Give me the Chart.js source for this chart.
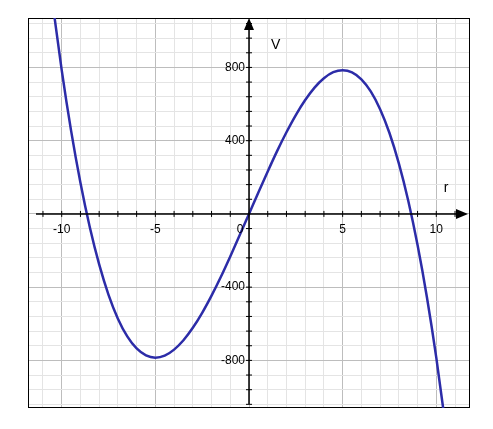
<!DOCTYPE html>
<html><head><script src="https://cdn.jsdelivr.net/npm/chart.js@4"></script>
<style>body{margin:0;background:#fff}#w{position:relative;width:493px;height:429px}</style></head>
<body><div id="w"><canvas id="c" width="493" height="429"></canvas></div>
<script>
const rValues=[-10.5,-10,-9.5,-9,-8.5,-8,-7.5,-7,-6.5,-6,-5.5,-5,-4.5,-4,-3.5,-3,-2.5,-2,-1.5,-1,-0.5,0,0.5,1,1.5,2,2.5,3,3.5,4,4.5,5,5.5,6,6.5,7,7.5,8,8.5,9,9.5,10,10.5];
const vValues=[1163,785,455,170,-73,-276,-442,-572,-669,-735,-773,-785,-774,-741,-690,-622,-540,-446,-343,-232,-117,0,117,232,343,446,540,622,690,741,774,785,773,735,669,572,442,276,73,-170,-455,-785,-1163];
const xTickLabels=[-10,-5,0,5,10];
const yTickLabels=[-800,-400,400,800];
const extras={id:'extras',
 beforeDatasetsDraw(ch){const c=ch.ctx,a=ch.chartArea;c.save();c.strokeStyle='#000';c.lineWidth=1;c.strokeRect(a.left+0.5,a.top+0.5,a.width-1,a.height-1);c.restore();},
 afterDraw(ch){const c=ch.ctx,x=ch.scales.x,y=ch.scales.y,a=ch.chartArea;const x0=x.getPixelForValue(0),y0=y.getPixelForValue(0);
 c.save();c.strokeStyle='#000';c.fillStyle='#000';c.lineWidth=1.5;
 c.beginPath();c.moveTo(a.left+8,y0);c.lineTo(a.right-8,y0);c.moveTo(x0,a.bottom-4);c.lineTo(x0,a.top+4);c.stroke();
 c.beginPath();c.moveTo(a.right-2,y0);c.lineTo(a.right-14,y0-5);c.lineTo(a.right-14,y0+5);c.fill();
 c.beginPath();c.moveTo(x0,a.top);c.lineTo(x0-5,a.top+12);c.lineTo(x0+5,a.top+12);c.fill();
 for(let i=-11;i<=11;i++){if(i===0)continue;const p=x.getPixelForValue(i);c.beginPath();c.moveTo(p,y0-3);c.lineTo(p,y0+3);c.lineWidth=1;c.stroke();}
 for(let v=-1040;v<=1040;v+=80){if(v===0)continue;const p=y.getPixelForValue(v);c.beginPath();c.moveTo(x0-3,p);c.lineTo(x0+3,p);c.stroke();}
 c.font='12px "Liberation Sans", Arial';c.textAlign='center';c.textBaseline='top';
 xTickLabels.forEach(t=>{let p=x.getPixelForValue(t);if(t===0)p-=9;c.fillText(String(t),p,y0+10);});
 c.textAlign='right';c.textBaseline='middle';
 yTickLabels.forEach(t=>c.fillText(String(t),x0-4,y.getPixelForValue(t)));
 c.font='14px "Liberation Sans", Arial';c.textAlign='left';
 c.fillText('V',x0+22,y.getPixelForValue(920));c.fillText('r',x.getPixelForValue(10.4),y0-26);
 c.restore();}};
new Chart(document.getElementById('c'),{type:'scatter',
 data:{datasets:[{data:rValues.map((r,i)=>({x:r,y:vValues[i]})),showLine:true,borderColor:'#2c2ca8',borderWidth:2.5,pointRadius:0,tension:0.4,cubicInterpolationMode:'monotone'}]},
 options:{responsive:false,animation:false,clip:true,layout:{padding:{left:28,right:23,top:18,bottom:21}},
 plugins:{legend:{display:false},tooltip:{enabled:false}},
 scales:{x:{type:'linear',min:-11.8,max:11.8,afterBuildTicks(s){const t=[];for(let i=-11;i<=11;i++)t.push({value:i});s.ticks=t;},
   ticks:{display:false},border:{display:false},grid:{drawTicks:false,color:c=>c.tick.value%5===0?'#bdbdbd':'#e4e4e4'}},
  y:{type:'linear',min:-1060,max:1070,afterBuildTicks(s){const t=[];for(let v=-1040;v<=1040;v+=80)t.push({value:v});s.ticks=t;},
   ticks:{display:false},border:{display:false},grid:{drawTicks:false,color:c=>c.tick.value%400===0?'#bdbdbd':'#e4e4e4'}}}},
 plugins:[extras]});
</script></body></html>
